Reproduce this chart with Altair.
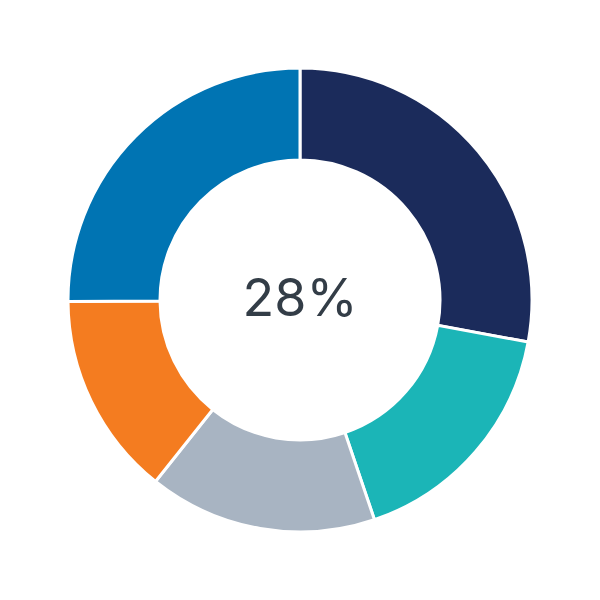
import altair as alt
import pandas as pd

categories = ["A", "B", "C", "D", "E"]
values = [27.9, 16.9, 15.9, 14.2, 25.1]
colors = ["#1b2b5b", "#1bb5b7", "#a8b4c2", "#f47c20", "#0074b3"]
center_label = "28%"

df = pd.DataFrame({"cat": categories, "value": values, "idx": list(range(len(categories)))})

arc = alt.Chart(df).mark_arc(outerRadius=232, innerRadius=140, stroke="white", strokeWidth=3).encode(
    theta=alt.Theta("value:Q", stack=True),
    color=alt.Color("cat:N", scale=alt.Scale(domain=categories, range=colors), legend=None),
    order=alt.Order("idx:Q"),
)

text = alt.Chart(pd.DataFrame({"t": [center_label]})).mark_text(
    font="Inter", fontSize=52, fontWeight=400, color="#333d47", align="center", baseline="middle"
).encode(text="t:N", x=alt.value(292), y=alt.value(292))

chart = alt.layer(arc, text).properties(
    width=584, height=584, padding=0, autosize=alt.AutoSizeParams(type="none")
).configure_view(stroke=None)

chart.save("out.html", embed_options={"renderer": "svg", "actions": False})
